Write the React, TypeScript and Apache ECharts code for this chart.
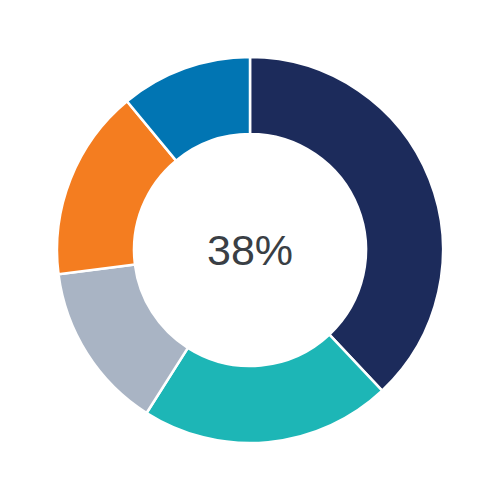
import React, { useEffect, useRef } from "react";
import * as echarts from "echarts";

const categories = ["A", "B", "C", "D", "E"];
const values = [38, 21, 14, 16, 11];
const colors = ["#1c2b5b", "#1db6b6", "#a9b4c4", "#f47d20", "#0175b3"];
const centerLabel = "38%";

export default function App() {
  const ref = useRef<HTMLDivElement>(null);
  useEffect(() => {
    if (!ref.current) return;
    const chart = echarts.init(ref.current, null, { renderer: "svg" });
    chart.setOption({
      animation: false,
      backgroundColor: "#ffffff",
      series: [
        {
          type: "pie",
          radius: [116, 193],
          center: [250, 250],
          startAngle: 90,
          clockwise: true,
          label: { show: false },
          labelLine: { show: false },
          emphasis: { disabled: true },
          itemStyle: { borderColor: "#ffffff", borderWidth: 2.5 },
          data: categories.map((c, i) => ({
            name: c,
            value: values[i],
            itemStyle: { color: colors[i] },
          })),
        },
      ],
      graphic: [
        {
          type: "text",
          left: "center",
          top: "middle",
          style: {
            text: centerLabel,
            fontSize: 43,
            fontFamily: "Liberation Sans, Arial, sans-serif",
            fill: "#3a3f45",
          },
        },
      ],
    });
    return () => chart.dispose();
  }, []);
  return (
    <div
      ref={ref}
      style={{ position: "fixed", left: 0, top: 0, width: 500, height: 500 }}
    />
  );
}
